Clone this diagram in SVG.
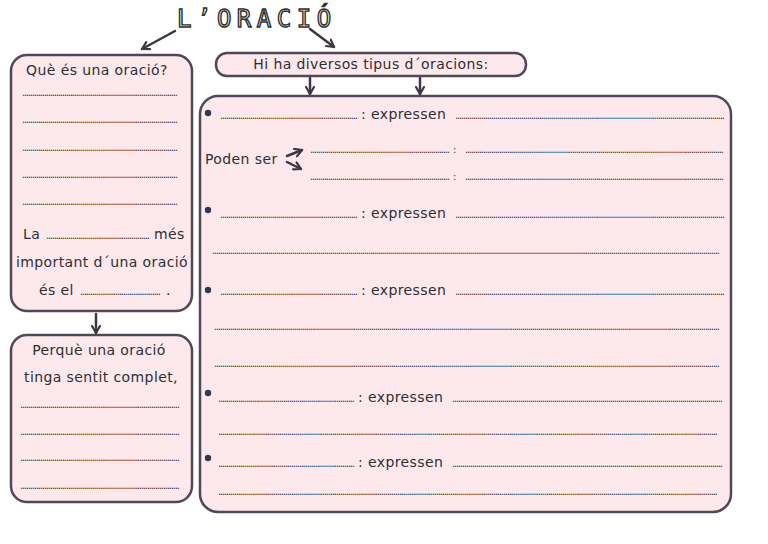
<svg xmlns="http://www.w3.org/2000/svg" width="768" height="544" viewBox="0 0 768 544">
<defs>
<marker id="ah" viewBox="0 0 10 10" refX="8" refY="5" markerWidth="10" markerHeight="10" markerUnits="userSpaceOnUse" orient="auto">
<path d="M1,1 L8,5 L1,9" fill="none" stroke="#3f3645" stroke-width="2.2" stroke-linecap="round" stroke-linejoin="round"/>
</marker>
</defs>
<style>
.box{fill:#fde8ec;stroke:#51475a;stroke-width:2.5}
.t{font-family:"DejaVu Sans","Noto Sans",sans-serif;font-size:14px;letter-spacing:0.4px;fill:#2f2f33}
.c{text-anchor:middle}
.d{font-family:"DejaVu Sans",sans-serif;font-size:10px;fill:#333333}
.ttl{font-family:"DejaVu Sans Mono",monospace;font-size:24px;fill:#ffffff;stroke:#2e2e2e;stroke-width:1.4;letter-spacing:5.5px}
.con{fill:none;stroke:#3f3645;stroke-width:2.5;stroke-linecap:round}
.bul{fill:#2c3a55}
</style>
<rect width="768" height="544" fill="#ffffff"/>

<g id="title">
<text class="ttl" x="177" y="27">L’ORACIÓ</text>
</g>

<g id="node-que">
<rect class="box" x="11" y="55" width="181" height="256" rx="16"/>
<text class="t c" x="97" y="75">Què és una oració?</text>
<text class="d" x="22" y="96" textLength="156" lengthAdjust="spacing">..............................................................................</text>
<text class="d" x="22" y="123" textLength="156" lengthAdjust="spacing">..............................................................................</text>
<text class="d" x="22" y="151" textLength="156" lengthAdjust="spacing">..............................................................................</text>
<text class="d" x="22" y="178" textLength="156" lengthAdjust="spacing">..............................................................................</text>
<text class="d" x="22" y="205" textLength="156" lengthAdjust="spacing">..............................................................................</text>
<text class="t" x="23" y="239">La</text>
<text class="d" x="46" y="239" textLength="104" lengthAdjust="spacing">....................................................</text>
<text class="t" x="154" y="239">més</text>
<text class="t c" x="102" y="267">important d´una oració</text>
<text class="t" x="39" y="295">és el</text>
<text class="d" x="80" y="295" textLength="81" lengthAdjust="spacing">.........................................</text>
<text class="t" x="166" y="295">.</text>
</g>

<g id="node-perque">
<rect class="box" x="11" y="335" width="181" height="167" rx="16"/>
<text class="t c" x="99" y="355">Perquè una oració</text>
<text class="t c" x="101" y="382">tinga sentit complet,</text>
<text class="d" x="20" y="408" textLength="160" lengthAdjust="spacing">................................................................................</text>
<text class="d" x="20" y="435" textLength="160" lengthAdjust="spacing">................................................................................</text>
<text class="d" x="20" y="461" textLength="160" lengthAdjust="spacing">................................................................................</text>
<text class="d" x="20" y="489" textLength="160" lengthAdjust="spacing">................................................................................</text>
</g>

<g id="node-tipus">
<rect class="box" x="216" y="53" width="310" height="23" rx="11"/>
<text class="t c" x="371" y="69">Hi ha diversos tipus d´oracions:</text>
</g>

<g id="node-main">
<rect class="box" x="200" y="96" width="531" height="416" rx="18"/>

<circle class="bul" cx="208" cy="113" r="3.2"/>
<text class="d" x="220" y="119" textLength="138" lengthAdjust="spacing">.....................................................................</text>
<text class="t" x="361" y="119">: expressen</text>
<text class="d" x="455" y="119" textLength="270" lengthAdjust="spacing">.......................................................................................................................................</text>

<text class="t" x="205" y="164">Poden ser</text>
<text class="d" x="310" y="153" textLength="140" lengthAdjust="spacing">......................................................................</text>
<text class="d" x="453" y="153">:</text>
<text class="d" x="465" y="153" textLength="259" lengthAdjust="spacing">..................................................................................................................................</text>
<text class="d" x="310" y="180" textLength="140" lengthAdjust="spacing">......................................................................</text>
<text class="d" x="453" y="180">:</text>
<text class="d" x="465" y="180" textLength="259" lengthAdjust="spacing">..................................................................................................................................</text>

<circle class="bul" cx="208" cy="210" r="3.2"/>
<text class="d" x="220" y="218" textLength="138" lengthAdjust="spacing">.....................................................................</text>
<text class="t" x="361" y="218">: expressen</text>
<text class="d" x="455" y="218" textLength="270" lengthAdjust="spacing">.......................................................................................................................................</text>
<text class="d" x="212" y="254" textLength="508" lengthAdjust="spacing">..............................................................................................................................................................................................................................................................</text>

<circle class="bul" cx="208" cy="290" r="3.2"/>
<text class="d" x="220" y="295" textLength="138" lengthAdjust="spacing">.....................................................................</text>
<text class="t" x="361" y="295">: expressen</text>
<text class="d" x="455" y="295" textLength="270" lengthAdjust="spacing">.......................................................................................................................................</text>
<text class="d" x="214" y="330" textLength="506" lengthAdjust="spacing">..............................................................................................................................................................................................................................................................</text>
<text class="d" x="214" y="367" textLength="506" lengthAdjust="spacing">..............................................................................................................................................................................................................................................................</text>

<circle class="bul" cx="208" cy="393" r="3.2"/>
<text class="d" x="218" y="402" textLength="137" lengthAdjust="spacing">.....................................................................</text>
<text class="t" x="358" y="402">: expressen</text>
<text class="d" x="452" y="402" textLength="271" lengthAdjust="spacing">.......................................................................................................................................</text>
<text class="d" x="218" y="435" textLength="500" lengthAdjust="spacing">..............................................................................................................................................................................................................................................................</text>

<circle class="bul" cx="208" cy="458" r="3.2"/>
<text class="d" x="218" y="467" textLength="137" lengthAdjust="spacing">.....................................................................</text>
<text class="t" x="358" y="467">: expressen</text>
<text class="d" x="452" y="467" textLength="271" lengthAdjust="spacing">.......................................................................................................................................</text>
<text class="d" x="218" y="495" textLength="500" lengthAdjust="spacing">..............................................................................................................................................................................................................................................................</text>
</g>

<g id="connectors">
<line class="con" x1="175" y1="31" x2="142" y2="49" marker-end="url(#ah)"/>
<line class="con" x1="310" y1="29" x2="334" y2="47" marker-end="url(#ah)"/>
<line class="con" x1="310" y1="78" x2="310" y2="94" marker-end="url(#ah)"/>
<line class="con" x1="420" y1="78" x2="420" y2="94" marker-end="url(#ah)"/>
<line class="con" x1="96" y1="314" x2="96" y2="333" marker-end="url(#ah)"/>
<path class="con" d="M287,156 L302,150" marker-end="url(#ah)"/>
<path class="con" d="M287,162 L301,169" marker-end="url(#ah)"/>
</g>
</svg>
